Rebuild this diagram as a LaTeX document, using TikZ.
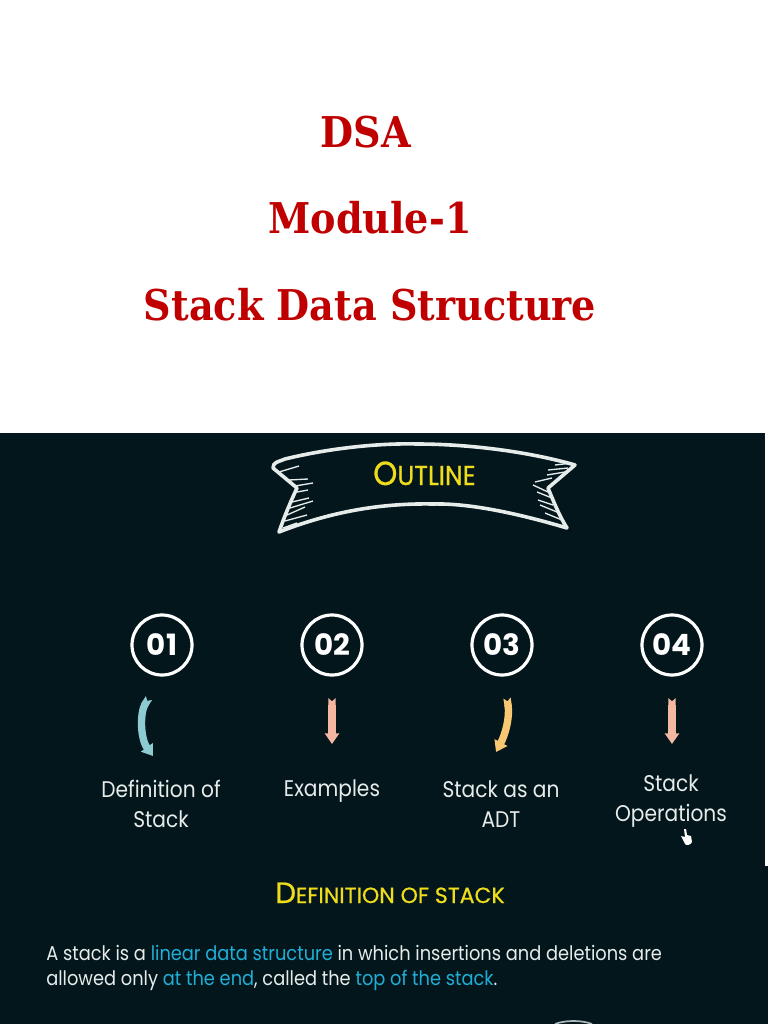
\documentclass[tikz,border=0pt]{standalone}
\usepackage{fontspec}
\setmainfont[FakeStretch=0.89]{Poppins}
\newfontfamily\titlefont{DejaVu Serif Condensed}
\newfontfamily\chalkfont[FakeBold=0.6]{Poppins}
\newfontfamily\outlinefont[FakeStretch=0.92,FakeBold=0.8]{Poppins}
\newfontfamily\digitfont{Poppins}
\usetikzlibrary{arrows.meta}
\definecolor{boardbg}{HTML}{03161C}
\definecolor{titlered}{HTML}{C00000}
\definecolor{chalkyellow}{HTML}{EFDD1C}
\definecolor{chalkwhite}{HTML}{E6ECEA}
\definecolor{chalkblue}{HTML}{1FAFD6}
\definecolor{arrowteal}{HTML}{8CCBD0}
\definecolor{arrowpink}{HTML}{F4B7A2}
\definecolor{arrowamber}{HTML}{F8C873}
\begin{document}
\begin{tikzpicture}[
    x=0.75pt,
    y=-0.75pt,
    title/.style = {
      text = titlered,
      font = \titlefont\bfseries\fontsize{31.8}{31.8}\selectfont
    },
    numcircle/.style = {
      draw = white,
      circle,
      line width = 2.4pt,
      minimum size = 45pt,
      inner sep = 0pt,
      text = white,
      font = \digitfont\bfseries\fontsize{22}{22}\selectfont
    },
    caption/.style = {
      text = chalkwhite,
      align = center,
      font = \fontsize{17}{22.5}\selectfont
    },
    flow/.style = {
      line width = 5.5pt,
      {Triangle Cap[reversed,length=2.5pt]}-{Triangle[length=8pt,width=10.5pt]}
    },
    hatch/.style = {
      draw = chalkwhite,
      line width = 1pt
    }
  ]
  \useasboundingbox (0,0) rectangle (768,1024);
  \fill[white] (0,0) rectangle (768,1024);
  \fill[boardbg] (0,433) rectangle (765,866);
  \fill[boardbg] (0,866) rectangle (768,1024);

  \node[title] (dsa) at (366,132) {DSA};
  \node[title] (module) at (370,218) {Module-1};
  \node[title] (topic) at (370,305) {Stack Data Structure};

  \draw[chalkwhite, line width=2.7pt, line join=round]
    (273,468) .. controls (273,462) and (278,462) .. (285,459)
    .. controls (330,448) and (380,443) .. (417,444)
    .. controls (470,444) and (530,452) .. (575,465)
    -- (548,488) .. controls (555,505) and (560,517) .. (567,528)
    .. controls (520,514) and (470,503) .. (433,504)
    .. controls (380,503) and (330,512) .. (279,532)
    .. controls (285,515) and (290,503) .. (297,488) -- cycle;
  \foreach \xa/\ya/\xb/\yb in {279/472/299/466, 289/480/308/479, 295/486/313/483,
    297/492/308/490, 292/502/309/498, 290/508/313/501, 287/515/305/507,
    285/521/307/515, 283/528/297/523}
    \draw[hatch] (\xa,\ya) -- (\xb,\yb);
  \foreach \xa/\ya/\xb/\yb in {555/465/572/463, 548/470/568/468, 547/475/565/472,
    535/482/552/478, 533/485/548/492, 537/492/552/498, 538/500/553/505,
    540/505/557/512, 545/513/562/520}
    \draw[hatch] (\xa,\ya) -- (\xb,\yb);
  \node[text=chalkyellow, anchor=base west, inner sep=0pt] (outline) at (373,485)
    {\outlinefont\fontsize{25}{25}\selectfont O\fontsize{20.5}{20.5}\selectfont UTLINE};

  \foreach \name/\x/\num in {c1/162/01, c2/332/02, c3/502/03, c4/672/04}
    \node[numcircle] (\name) at (\x,645) {\num};

  \coordinate (a1s) at (149,698);
  \coordinate (a1e) at (153,756);
  \coordinate (a2s) at (332,698);
  \coordinate (a2e) at (332,744);
  \coordinate (a3s) at (507,698);
  \coordinate (a3e) at (496,752);
  \coordinate (a4s) at (672,698);
  \coordinate (a4e) at (672,744);
  \draw[flow, arrowteal] (a1s) .. controls (140,712) and (140,738) .. (a1e);
  \draw[flow, arrowpink] (a2s) -- (a2e);
  \draw[flow, arrowamber] (a3s) .. controls (510,718) and (505,735) .. (a3e);
  \draw[flow, arrowpink] (a4s) -- (a4e);

  \node[caption] (t1) at (161,804) {Definition of\\Stack};
  \node[caption] (t2) at (332,791) {Examples};
  \node[caption] (t3) at (501,804) {Stack as an\\ADT};
  \node[caption] (t4) at (671,801) {Stack\\Operations};

  \fill[white] (684,829) -- (686,829) -- (687,835) -- (691,836) -- (692,842)
    .. controls (691,845) and (686,846) .. (685,844) -- (681,836) -- (685,837) -- cycle;

  \node[text=chalkyellow, anchor=base, inner sep=0pt] (defhead) at (390,903)
    {\chalkfont\fontsize{22}{22}\selectfont D\fontsize{16.5}{16.5}\selectfont EFINITION OF STACK};
  \node[text=chalkwhite, anchor=base west, inner sep=0pt] (body1) at (46,960)
    {\fontsize{15}{15}\selectfont A stack is a \textcolor{chalkblue}{linear data structure} in which insertions and deletions are};
  \node[text=chalkwhite, anchor=base west, inner sep=0pt] (body2) at (46,985)
    {\fontsize{15}{15}\selectfont allowed only \textcolor{chalkblue}{at the end}, called the \textcolor{chalkblue}{top of the stack}.};
  \draw[chalkwhite!75!boardbg, line width=1.3pt] (555,1024) .. controls (565,1020) and (582,1020) .. (592,1024);
\end{tikzpicture}
\end{document}
